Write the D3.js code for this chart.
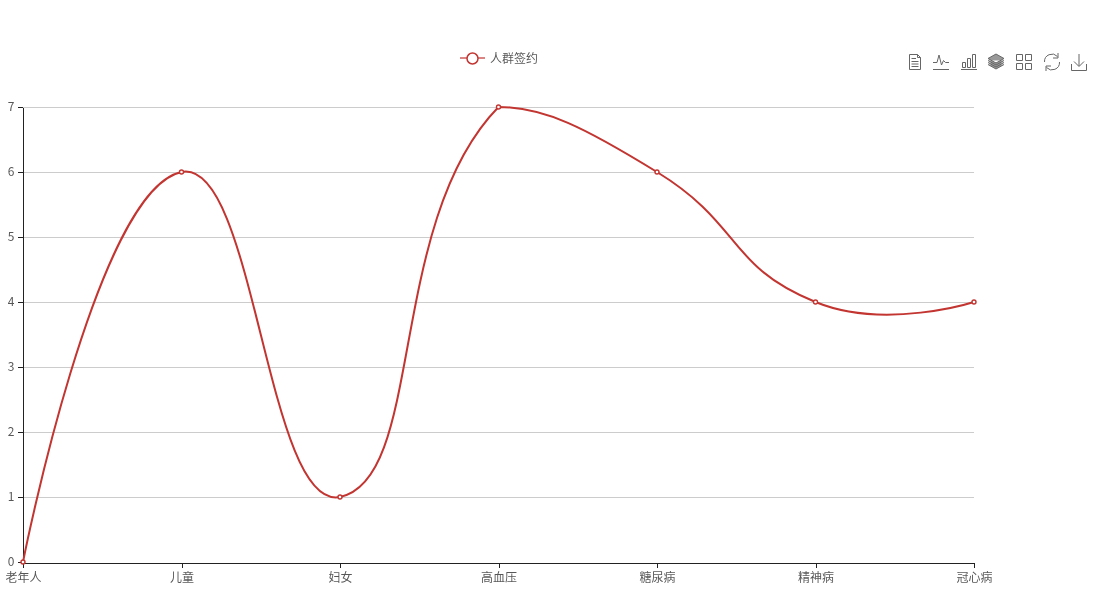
<!DOCTYPE html>
<html><head><meta charset="utf-8">
<script src="https://cdn.jsdelivr.net/npm/d3@7"></script>
<style>
html,body{margin:0;padding:0;background:#fff;overflow:hidden}
svg{display:block;will-change:transform;opacity:.999}
text{font-family:"Noto Sans CJK SC","Noto Sans",sans-serif;font-size:12px;fill:#333;opacity:.82}
</style></head><body>
<svg id="c" width="1115" height="599"></svg>
<script>
const categories=["老年人","儿童","妇女","高血压","糖尿病","精神病","冠心病"];
const seriesName="人群签约";
const values=[0,6,1,7,6,4,4];
const yTicks=[0,1,2,3,4,5,6,7];
const red="#c23531";

const svg=d3.select("#c");
const m={l:23,r:974,t:107,b:562};
const x=d3.scalePoint().domain(categories).range([m.l,m.r]);
const y=d3.scaleLinear().domain([0,7]).range([m.b,m.t]);

// ECharts-style smooth curve (smooth = 0.5, control points constrained to data bbox)
function EchartsCurve(ctx){this._c=ctx}
EchartsCurve.prototype={
 areaStart(){},areaEnd(){},
 lineStart(){this._p=[]},
 point(a,b){this._p.push([+a,+b])},
 lineEnd(){
  const P=this._p,s=0.5,n=P.length;
  const xe=d3.extent(P,d=>d[0]),ye=d3.extent(P,d=>d[1]);
  const cl=q=>[Math.min(xe[1],Math.max(xe[0],q[0])),Math.min(ye[1],Math.max(ye[0],q[1]))];
  this._c.moveTo(P[0][0],P[0][1]);
  let out=P[0];
  for(let i=1;i<n;i++){
   const p=P[i];let inn=p,nextOut=p;
   if(i<n-1){
    const a=P[i-1],b=P[i+1];
    const v=[b[0]-a[0],b[1]-a[1]];
    const d0=Math.hypot(p[0]-a[0],p[1]-a[1]),d1=Math.hypot(b[0]-p[0],b[1]-p[1]);
    const r=d1/(d0+d1);
    inn=cl([p[0]-v[0]*s*(1-r),p[1]-v[1]*s*(1-r)]);
    nextOut=cl([p[0]+v[0]*s*r,p[1]+v[1]*s*r]);
   }
   this._c.bezierCurveTo(out[0],out[1],inn[0],inn[1],p[0],p[1]);
   out=nextOut;
  }
 }
};
const curve=ctx=>new EchartsCurve(ctx);

// grid
svg.append("g").selectAll("line").data(yTicks.filter(t=>t>0)).join("line")
 .attr("x1",m.l).attr("x2",m.r).attr("y1",d=>Math.round(y(d))+.5).attr("y2",d=>Math.round(y(d))+.5)
 .attr("stroke","#ccc").attr("shape-rendering","crispEdges");

// axes
const gy=svg.append("g").attr("transform",`translate(${m.l-.5},0)`)
 .call(d3.axisLeft(y).tickValues(yTicks).tickSize(5).tickSizeOuter(0).tickPadding(3).tickFormat(d3.format("d")));
const gx=svg.append("g").attr("transform",`translate(0,${m.b+.5})`)
 .call(d3.axisBottom(x).tickSize(5).tickSizeOuter(0).tickPadding(6));
[gy,gx].forEach(g=>{
 g.attr("font-family",null).attr("font-size",null);
 g.selectAll("path,line").attr("stroke","#222").attr("shape-rendering","crispEdges");
 g.selectAll("text").attr("fill",null);
});

// line
svg.append("path").datum(values)
 .attr("fill","none").attr("stroke",red).attr("stroke-width",2)
 .attr("d",d3.line().x((d,i)=>x(categories[i])).y(d=>y(d)).curve(curve));
svg.append("g").selectAll("circle").data(values).join("circle")
 .attr("cx",(d,i)=>x(categories[i])).attr("cy",d=>y(d)).attr("r",2)
 .attr("fill","#fff").attr("stroke",red).attr("stroke-width",1.4);

// legend
const lg=svg.append("g");
lg.append("line").attr("x1",460).attr("x2",485).attr("y1",58).attr("y2",58).attr("stroke",red).attr("stroke-width",2).attr("opacity",.6);
lg.append("circle").attr("cx",472.5).attr("cy",58.5).attr("r",5.5).attr("fill","#fff").attr("stroke",red).attr("stroke-width",1.5);
lg.append("text").attr("x",490).attr("y",63).text(seriesName);

// toolbox
const tb=svg.append("g").attr("fill","none").attr("stroke","#666").attr("stroke-width",1);
const icons=[
 "M909.5 54.5H917.5L920.5 57.5V69.5H909.5ZM917.5 54.5V57.5H920.5M911.5 58.5H916M911.5 61.5H918.5M911.5 64H918.5M911.5 66.5H918.5",
 "M933 69.5H949M933 62.5H937L939 55L941.5 65L943.5 60.5L945.5 62.5H949",
 "M961 69.5H977M962.5 67.5V62.5H965.5V67.5ZM967.5 67.5V58.5H970.5V67.5ZM972.5 67.5V54.5H975.5V67.5Z",
 "M996 54L1004 58.5L996 63L988 58.5ZM988 60.5L996 65L1004 60.5M988 62.5L996 67L1004 62.5M988 64.5L996 69L1004 64.5",
 "M1016.5 54.5H1022.5V60.5H1016.5ZM1025.5 54.5H1031.5V60.5H1025.5ZM1016.5 63.5H1022.5V69.5H1016.5ZM1025.5 63.5H1031.5V69.5H1025.5Z",
 "M1044.5 62A7.5 7.5 0 0 1 1057.5 56.5M1058 53V58H1053M1059.5 62A7.5 7.5 0 0 1 1046.5 67.5M1046 71V66H1051",
 "M1079 54V66M1074 61.5L1079 66.5L1084 61.5M1071.5 64V70.5H1086.5V64"
];
tb.selectAll("path").data(icons).join("path").attr("d",d=>d);
tb.select("path:nth-child(4)").attr("fill","#999");
</script>
</body></html>
